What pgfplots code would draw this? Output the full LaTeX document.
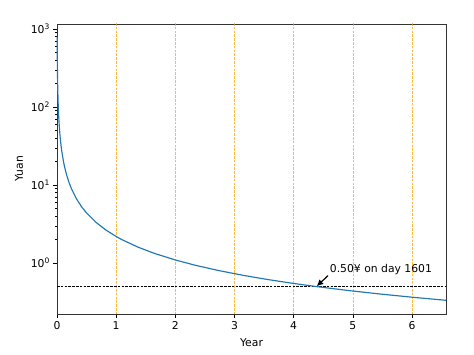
\documentclass[border=0pt]{standalone}
\usepackage{pgfplots}
\pgfplotsset{compat=1.18}
\usetikzlibrary{arrows.meta}
\usepackage{fontspec}
\setmainfont{DejaVu Sans}
\definecolor{c0}{HTML}{1F77B4}
\definecolor{morange}{HTML}{FFA500}
\begin{document}
\begin{tikzpicture}[font=\fontsize{10.8}{13}\selectfont]
\begin{axis}[
  set layers,
  scale only axis, width=389pt, height=290pt,
  ymode=log, xmin=0, xmax=6.575, ymin=0.2225, ymax=1160,
  xtick={0,1,2,3,4,5,6},
  ytick={1,10,100,1000},
  yticklabels={10\textsuperscript{0},10\textsuperscript{1},10\textsuperscript{2},10\textsuperscript{3}},
  /pgf/number format/assume math mode=true,
  tick align=outside, major tick length=3.6pt, minor tick length=2pt,
  tick style={black, line width=0.6pt},
  xtick pos=bottom, ytick pos=left,
  axis line style={line width=0.6pt, black!80},
  xlabel={Year}, ylabel={Yuan},
  xlabel style={yshift=-2pt}, ylabel style={yshift=1pt},
  clip=true,
]
\pgfplotsinvokeforeach{1,2,3,4,5,6}{
  \addplot[morange, line width=0.55pt, opacity=0.75, dash pattern=on 2.6pt off 1.2pt, forget plot] coordinates {(#1,0.1) (#1,2000)};
}
\addplot[black, line width=0.6pt, dash pattern=on 2.6pt off 1.2pt] coordinates {(0,0.5) (7,0.5)};
\addplot[c0, line width=1.15pt, on layer=axis foreground] coordinates {
(0.00274,800) (0.00548,400) (0.00822,266.7) (0.01096,200) (0.0137,160) (0.0192,114.3)
(0.02192,100) (0.0274,80) (0.03288,66.67) (0.0411,53.33) (0.0548,40) (0.0685,32)
(0.0822,26.67) (0.1096,20) (0.1233,17.78) (0.1644,13.33) (0.2055,10.67) (0.2466,8.889)
(0.3288,6.667) (0.411,5.333) (0.4932,4.444) (0.6575,3.333) (0.8219,2.667) (1.0,2.192)
(1.0959,2.0) (1.3699,1.6) (1.6438,1.333) (2.0,1.096) (2.3288,0.941) (2.7397,0.8)
(3.1507,0.6957) (3.5616,0.6154) (3.9726,0.5517) (4.3863,0.4997) (4.9315,0.4444)
(5.4795,0.4) (6.0274,0.3636) (6.5753,0.3333)
};
\node[anchor=base west, inner sep=0pt] at (axis cs:4.61,0.76) {0.50¥ on day 1601};
\draw[-{Latex[length=6.5pt,width=6.5pt]}, line width=1.2pt] (axis cs:4.58,0.69) -- (axis cs:4.39,0.505);
\path (rel axis cs:0,0) ++(-57pt,-41pt) coordinate (bl);
\path (rel axis cs:1,1) ++(28pt,24pt) coordinate (tr);
\end{axis}
\path (bl) rectangle (tr);
\end{tikzpicture}
\end{document}
